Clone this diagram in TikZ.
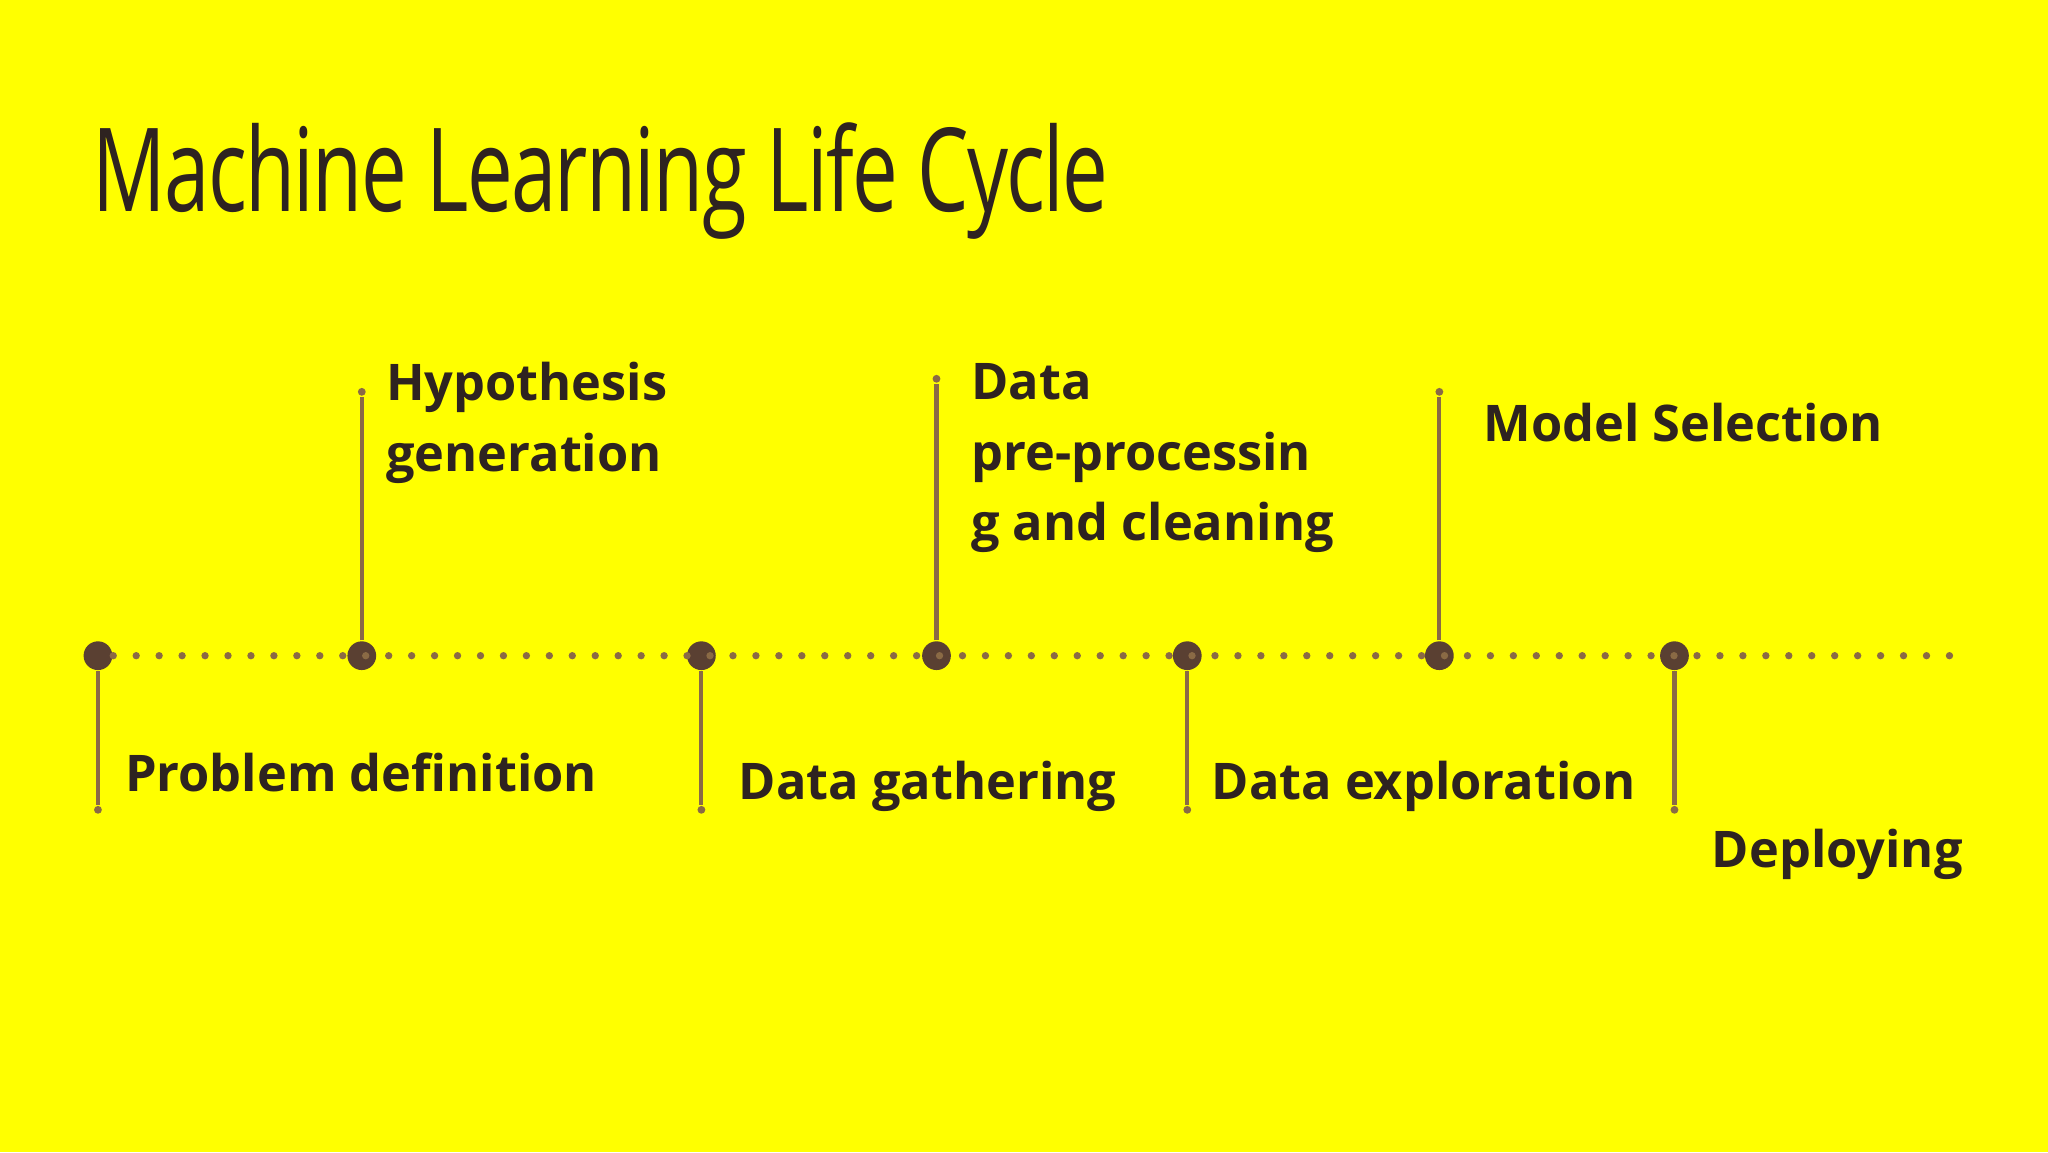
\documentclass[tikz,border=0pt]{standalone}
\usepackage{fontspec}
\setmainfont{Open Sans}
\newfontfamily\titlefont{Open Sans}
\usepackage{graphicx}
\definecolor{bg}{HTML}{FFFF00}
\definecolor{dotc}{HTML}{5A4032}
\definecolor{linec}{HTML}{8A6A45}
\definecolor{txt}{HTML}{2E2320}
\tikzset{
  bigdot/.style={circle,fill=dotc,inner sep=0pt,minimum size=0.22cm},
  tinydot/.style={circle,fill=linec,inner sep=0pt,minimum size=0.06cm},
  stem/.style={linec,line width=0.9pt},
  lbl/.style={anchor=base west,inner sep=0pt,text=txt,font=\fontsize{11}{15.4}\selectfont\bfseries,align=left},
}
\begin{document}
\begin{tikzpicture}[x=1cm,y=1cm]
\fill[bg] (0,0) rectangle (15.68,8.82);
\useasboundingbox (0,0) rectangle (15.68,8.82);
\node[anchor=base west,inner sep=0pt,text=txt] (title) at (0.70,7.20)
  {\resizebox{7.78cm}{0.68cm}{\titlefont\fontsize{30}{30}\selectfont\addfontfeatures{LetterSpace=-2}Machine Learning Life Cycle}};
\coordinate (lend) at (15.00,3.80);
\foreach \n/\x in {a/0.75,b/2.77,c/5.37,d/7.17,e/9.09,f/11.02,g/12.82}
  \node[bigdot] (\n) at (\x,3.80) {};
\draw[linec,line width=1.6pt,dash pattern=on 0pt off 5pt,line cap=round] (a) -- (lend);
% up stems
\node[tinydot] (bt) at (2.77,5.82) {};
\node[tinydot] (dt) at (7.17,5.92) {};
\node[tinydot] (ft) at (11.02,5.82) {};
\draw[stem] (b) -- (bt); \draw[stem] (d) -- (dt); \draw[stem] (f) -- (ft);
% down stems
\node[tinydot] (ab) at (0.75,2.62) {};
\node[tinydot] (cb) at (5.37,2.62) {};
\node[tinydot] (eb) at (9.09,2.62) {};
\node[tinydot] (gb) at (12.82,2.62) {};
\draw[stem] (a) -- (ab); \draw[stem] (c) -- (cb); \draw[stem] (e) -- (eb); \draw[stem] (g) -- (gb);
% labels
\node[lbl] (l1) at (0.95,2.76) {Problem definition};
\node[lbl] (l2) at (2.95,5.21) {Hypothesis\\generation};
\node[lbl] (l3) at (5.65,2.70) {Data gathering};
\node[lbl] (l4) at (7.43,4.68) {Data\\pre-processin\\g and cleaning};
\node[lbl] (l5) at (9.27,2.70) {Data exploration};
\node[lbl] (l6) at (11.35,5.44) {Model Selection};
\node[lbl] (l7) at (13.10,2.18) {Deploying};
\end{tikzpicture}
\end{document}
